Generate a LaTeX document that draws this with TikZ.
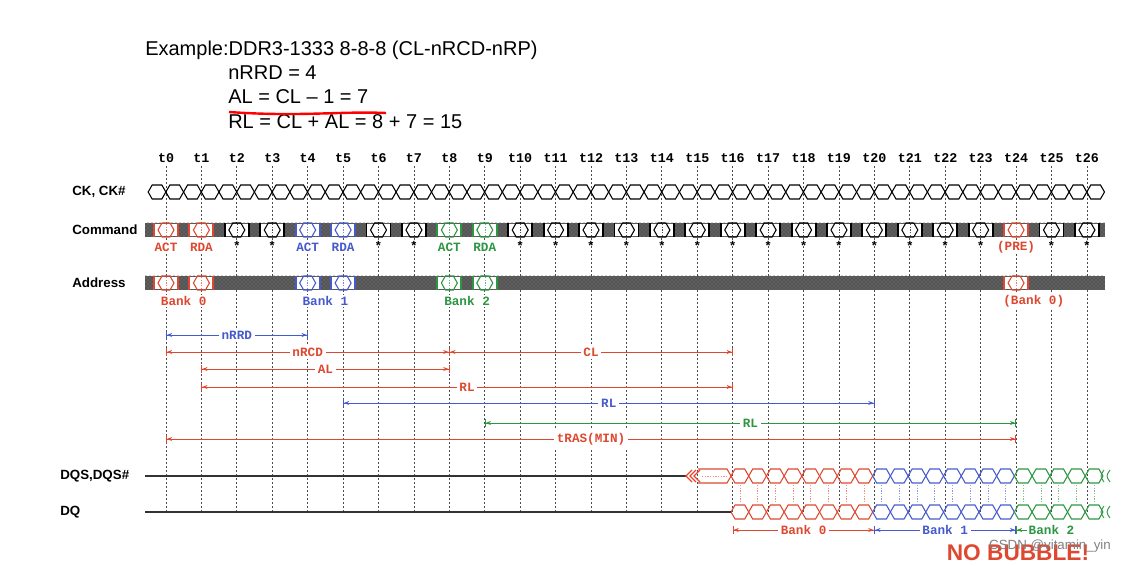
\documentclass[tikz,border=0pt]{standalone}
\usepackage{fontspec}
\setmainfont{Liberation Sans}
\newfontfamily\mono{Liberation Mono}
\usetikzlibrary{arrows.meta,patterns}
\definecolor{rd}{RGB}{222,72,48}
\definecolor{bl}{RGB}{70,90,205}
\definecolor{gr}{RGB}{45,150,65}
\definecolor{bar}{RGB}{95,95,95}
\begin{document}
\begin{tikzpicture}[x=0.75pt,y=-0.75pt,
  lab/.style={font=\mono\bfseries\fontsize{9.5}{10}\selectfont,inner sep=1pt,fill=white},
  sig/.style={font=\bfseries\fontsize{10}{11}\selectfont,anchor=west,inner sep=0pt},
  hd/.style={anchor=west,font=\fontsize{15}{16}\selectfont,inner sep=0},
  dim/.style={{Bar[width=6pt]Stealth[length=4pt]}-{Stealth[length=4pt]Bar[width=6pt]},line width=0.6pt},
  dl/.style={lab,fill=white,inner sep=2pt},
  grid/.style={black!70,line width=0.6pt,dash pattern=on 1.5pt off 1.5pt}]
\useasboundingbox (0,0) rectangle (1135,566);
\newcommand\eye[4]{% centre x, y, colour, halfwidth
  \draw[#3,line width=0.8pt] ({#1-#4},#2) -- ({#1-#4+4},{#2-7}) -- ({#1+#4-4},{#2-7}) -- ({#1+#4},#2) -- ({#1+#4-4},{#2+7}) -- ({#1-#4+4},{#2+7}) -- cycle;}
% header
\node[hd] (h1) at (145,50) {Example:DDR3-1333 8-8-8 (CL-nRCD-nRP)};
\node[hd] (h2) at (228,73) {nRRD = 4};
\node[hd] (h3) at (228,97) {AL = CL -- 1 = 7};
\node[hd] (h4) at (228,122) {RL = CL + AL = 8 + 7 = 15};
\draw[red,line width=1.8pt] (229,112) .. controls (300,117) and (340,111) .. (386,113);
% tick labels and grid
\foreach \i in {0,...,26}{
  \draw[grid] ({166+35.42*\i},166) -- ({166+35.42*\i},512);
  \node[lab,font=\mono\bfseries\fontsize{10}{11}\selectfont,fill=none] (t\i) at ({166+35.42*\i},158) {t\i};}
% labels
\node[sig] (ck) at (72,192) {CK, CK\#};
\node[sig] (cmd) at (72,230) {Command};
\node[sig] (adr) at (72,283) {Address};
\node[sig] (dqs) at (60,476) {DQS,DQS\#};
\node[sig] (dq) at (60,512) {DQ};
% clock
\foreach \k in {0,...,53}{\eye{157+17.71*\k}{192}{black}{8.85}}
% command and address bars
\foreach \y in {230,283}{
  \fill[bar] (145,{\y-7}) rectangle (1105,{\y+7});
  \fill[pattern=crosshatch dots,pattern color=black!80] (145,{\y-7}) rectangle (1105,{\y+7});}
\newcommand\cell[3]{% i, y, colour
  \fill[white] ({166+35.42*#1-12},{#2-6}) rectangle ({166+35.42*#1+12},{#2+6});
  \draw[#3,line width=1.4pt] ({166+35.42*#1-12},{#2-7}) -- ({166+35.42*#1-12},{#2+7})
        ({166+35.42*#1+12},{#2-7}) -- ({166+35.42*#1+12},{#2+7});
  \eye{166+35.42*#1}{#2}{#3}{8}
  \draw[#3!70,dash pattern=on 1pt off 1pt] ({166+35.42*#1},{#2-6}) -- ({166+35.42*#1},{#2+6});}
\foreach \i in {2,3,6,7,10,11,12,13,14,15,16,17,18,19,20,21,22,23,25,26}{\cell{\i}{230}{black}}
\foreach \i/\c in {0/rd,1/rd,4/bl,5/bl,8/gr,9/gr,24/rd}{\cell{\i}{230}{\c}\cell{\i}{283}{\c}}
% command labels
\foreach \i/\t/\c in {0/ACT/rd,1/RDA/rd,4/ACT/bl,5/RDA/bl,8/ACT/gr,9/RDA/gr,24/(PRE)/rd}
  \node[lab,text=\c] (c\i) at ({166+35.42*\i},247) {\t};
\foreach \i in {2,3,6,7,10,11,12,13,14,15,16,17,18,19,20,21,22,23,25,26}
  \node[lab,fill=none] (c\i) at ({166+35.42*\i},246) {*};
\node[lab,text=rd] (b0) at ({166+35.42*0.5},301) {Bank 0};
\node[lab,text=bl] (b1) at ({166+35.42*4.5},301) {Bank 1};
\node[lab,text=gr] (b2) at ({166+35.42*8.5},301) {Bank 2};
\node[lab,text=rd] (b3) at ({166+35.42*24.5},301) {(Bank 0)};
% timing dimensions
\newcommand\dimr[5]{% i1,i2,y,colour,label
  \coordinate (a) at ({166+35.42*#1},#3); \coordinate (b) at ({166+35.42*#2},#3);
  \draw[dim,#4] (a) -- (b) node[midway,dl,text=#4] {#5};}
\dimr{0}{4}{335}{bl}{nRRD}
\dimr{0}{8}{352}{rd}{nRCD}
\dimr{8}{16}{352}{rd}{CL}
\dimr{1}{8}{369}{rd}{AL}
\dimr{1}{16}{387}{rd}{RL}
\dimr{5}{20}{403}{bl}{RL}
\dimr{9}{24}{423}{gr}{RL}
\dimr{0}{24}{439}{rd}{tRAS(MIN)}
% DQS
\draw[black!80,line width=1pt] (145,476) -- (686,476);
\foreach \k in {0,1,2}{\draw[rd,line width=0.9pt] ({692+4*\k},470) -- ({686+4*\k},476) -- ({692+4*\k},482);}
\draw[rd,line width=0.8pt] (698,469) -- ({731-4},469) -- (731,476) -- ({731-4},483) -- (698,483);
\draw[rd!60,dash pattern=on 1pt off 1pt] (702,476) -- (727,476);
\foreach \y in {476,512}{
  \foreach \k in {0,...,7}{\eye{739.85+17.71*\k}{\y}{rd}{8.85}}
  \foreach \k in {8,...,15}{\eye{739.85+17.71*\k}{\y}{bl}{8.85}}
  \foreach \k in {16,...,20}{\eye{739.85+17.71*\k}{\y}{gr}{8.85}}
  \draw[gr,line width=0.7pt] (1104,{\y-6}) .. controls (1100,\y) .. (1104,{\y+6}) (1110,{\y-6}) .. controls (1106,\y) .. (1110,{\y+6});}
% DQ
\draw[black!80,line width=1pt] (145,512) -- (731,512);
% DQ–DQS dotted links
\foreach \k in {0,...,20}{\pgfmathsetmacro\xx{739.85+17.71*\k}
  \ifnum\k<8 \def\cc{rd}\else\ifnum\k<16 \def\cc{bl}\else\def\cc{gr}\fi\fi
  \draw[\cc!60,dash pattern=on 1pt off 1pt] (\xx,485) -- (\xx,503);}
% bank dims
\dimr{16}{20}{530}{rd}{Bank 0}
\dimr{20}{24}{530}{bl}{Bank 1}
\node[lab,text=gr] (bk2) at ({166+35.42*25},530) {Bank 2};
\draw[gr,line width=0.6pt,{Bar[width=6pt]Stealth[length=4pt]}-] ({166+35.42*24},530) -- (bk2.west);
% footer
\node[text=rd,font=\bfseries\fontsize{17}{18}\selectfont] (nb) at (1018,553) {NO BUBBLE!};
\node[text=gray,font=\fontsize{10}{11}\selectfont] (wm) at (1050,546) {CSDN @vitamin\_yin};
\end{tikzpicture}
\end{document}
